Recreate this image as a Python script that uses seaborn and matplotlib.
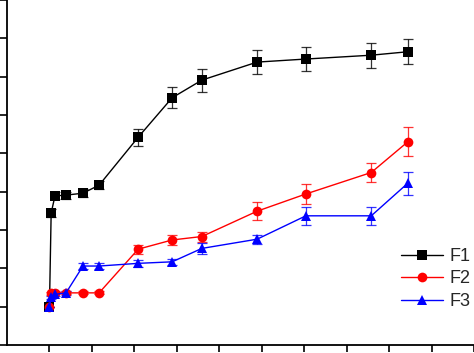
import pandas as pd
import matplotlib
matplotlib.use("Agg")
import matplotlib.pyplot as plt
import seaborn as sns

# tiempo (en unidades del eje) y valores
t = [0, 0.04, 0.13, 0.39, 0.79, 1.17, 2.09, 2.89, 3.59, 4.89, 6.04, 7.58, 8.44]
f1 = [0, 24.4, 28.9, 29.1, 29.6, 31.7, 44.2, 54.5, 59.1, 63.8, 64.6, 65.6, 66.5]
f2 = [0, 3.5, 3.6, 3.6, 3.6, 3.6, 15.0, 17.4, 18.3, 24.9, 29.4, 35.0, 43.0]
f3 = [0, 2.4, 3.2, 3.6, 10.6, 10.6, 11.3, 11.7, 15.2, 17.6, 23.7, 23.7, 32.2]
e1 = [0, 1.0, 0.9, 0.9, 1.0, 1.0, 2.2, 2.7, 3.0, 3.1, 3.1, 3.3, 3.3]
e2 = [0, 0.4, 0.4, 0.4, 0.4, 0.4, 1.2, 1.4, 1.3, 2.3, 2.5, 2.6, 3.8]
e3 = [0, 0.5, 0.5, 0.5, 0.8, 0.8, 1.0, 0.8, 1.4, 1.2, 2.3, 2.3, 3.0]

series = ['F1', 'F2', 'F3']
colores = {'F1': '#000000', 'F2': '#ff0000', 'F3': '#0000ff'}
marcadores = {'F1': 's', 'F2': 'o', 'F3': '^'}
tamanos = {'F1': 6.5, 'F2': 7, 'F3': 7.5}

df = pd.concat([
    pd.DataFrame({'t': t, 'v': v, 'e': e, 'serie': s})
    for s, v, e in zip(series, [f1, f2, f3], [e1, e2, e3])
])

sns.set_style("ticks")
plt.rcParams['font.family'] = ['Liberation Sans', 'DejaVu Sans']

fig = plt.figure(figsize=(4.74, 3.53), dpi=100)
ax = fig.add_axes([7/474, 8/353, 467/474, 345/353])

for s in series:
    d = df[df['serie'] == s]
    ax.errorbar(d['t'], d['v'], yerr=d['e'], fmt='none', ecolor=colores[s],
                elinewidth=0.9, capsize=3.5, capthick=0.9, alpha=0.8, zorder=2)
    sns.lineplot(data=d, x='t', y='v', color=colores[s], marker=marcadores[s],
                 markersize=tamanos[s], markeredgewidth=0, linewidth=1,
                 label=s, ax=ax, zorder=3, sort=False)

ax.set_xlim(-1, 10)
ax.set_ylim(-10, 80)
ax.set_xticks(range(0, 11))
ax.set_yticks(range(-10, 81, 10))
ax.set_xticklabels([])
ax.set_yticklabels([])
ax.set_xlabel("")
ax.set_ylabel("")
ax.tick_params(direction='out', length=5, width=1.2, colors='black')
for lado in ['top', 'right']:
    ax.spines[lado].set_visible(False)
for lado in ['left', 'bottom']:
    ax.spines[lado].set_linewidth(1.3)
    ax.spines[lado].set_color('black')

ax.legend(loc='upper left', bbox_to_anchor=(401/474, 1 - 248/353),
          bbox_transform=fig.transFigure, frameon=False, fontsize=13,
          borderpad=0, borderaxespad=0, handlelength=2.3, handletextpad=0.4,
          labelspacing=0.3)

fig.savefig("out.png", dpi=100)
